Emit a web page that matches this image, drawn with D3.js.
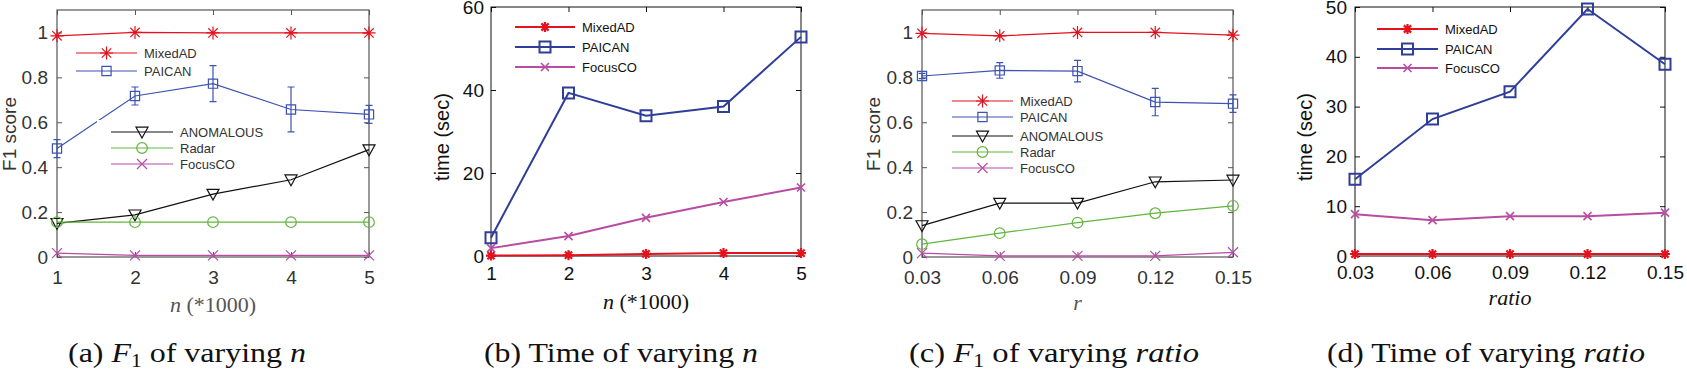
<!DOCTYPE html>
<html>
<head>
<meta charset="utf-8">
<script src="https://cdn.jsdelivr.net/npm/d3@7"></script>
<style>
body { margin: 0; background: #fff; }
svg { display: block; }
</style>
</head>
<body>
<svg id="chart" width="1687" height="371"></svg>
<script>
// x values
const nValues = [1, 2, 3, 4, 5];
const ratioValues = [0.03, 0.06, 0.09, 0.12, 0.15];

// tick labels
const f1Ticks = [0, 0.2, 0.4, 0.6, 0.8, 1];
const timeNTicks = [0, 20, 40, 60];
const timeRatioTicks = [0, 10, 20, 30, 40, 50];

// (a) F1 of varying n
const f1N_mixedAD = [0.985, 1.0, 0.998, 0.998, 0.998];
const f1N_paican = [0.483, 0.717, 0.772, 0.657, 0.635];
const f1N_paicanErr = [0.04, 0.04, 0.08, 0.10, 0.04];
const f1N_anomalous = [0.15, 0.188, 0.28, 0.344, 0.478];
const f1N_radar = [0.155, 0.155, 0.155, 0.155, 0.155];
const f1N_focusCO = [0.017, 0.007, 0.007, 0.007, 0.007];

// (b) time of varying n
const timeN_mixedAD = [0.1, 0.2, 0.5, 0.7, 0.7];
const timeN_paican = [4.4, 39.3, 33.8, 36.0, 52.8];
const timeN_focusCO = [1.9, 4.8, 9.2, 13.0, 16.5];

// (c) F1 of varying ratio
const f1R_mixedAD = [0.996, 0.985, 1.0, 1.0, 0.988];
const f1R_paican = [0.806, 0.831, 0.828, 0.69, 0.683];
const f1R_paicanErr = [0.012, 0.035, 0.048, 0.061, 0.039];
const f1R_anomalous = [0.14, 0.24, 0.24, 0.335, 0.343];
const f1R_radar = [0.057, 0.106, 0.153, 0.195, 0.228];
const f1R_focusCO = [0.017, 0.005, 0.005, 0.005, 0.021];

// (d) time of varying ratio
const timeR_mixedAD = [0.4, 0.4, 0.4, 0.4, 0.4];
const timeR_paican = [15.4, 27.5, 33.0, 49.6, 38.5];
const timeR_focusCO = [8.4, 7.2, 8.0, 8.0, 8.7];

const RED = "#e3121d", BLUE_THIN = "#3d53b2", BLUE_THICK = "#2f3e98",
      BLACK = "#111", GREEN = "#62b53e", MAGENTA = "#b84ca3";

const svg = d3.select("#chart");

function markerPath(type, r) {
	const k = r * 0.72;
	switch (type) {
		case "star": return `M${-r},0L${r},0M0,${-r}L0,${r}M${-k},${-k}L${k},${k}M${-k},${k}L${k},${-k}`;
		case "square": return `M${-r},${-r}H${r}V${r}H${-r}Z`;
		case "triangle": return `M${-r},${-r * 0.8}L${r},${-r * 0.8}L0,${r}Z`;
		case "x": return `M${-r},${-r}L${r},${r}M${-r},${r}L${r},${-r}`;
		case "circle": {
			const p = d3.path();
			p.arc(0, 0, r, 0, 2 * Math.PI);
			return p.toString();
		}
	}
}

function drawPanel(cfg) {
	const g = svg.append("g");
	const x = d3.scaleLinear().domain(d3.extent(cfg.xValues)).range([cfg.left, cfg.right]);
	const y = d3.scaleLinear().domain(cfg.yDomain).range([cfg.bottom, cfg.top]);

	// axes, ticks inward on all four sides (labels only bottom / left)
	const tick = 5;
	const axes = [
		[d3.axisBottom(x).tickValues(cfg.xValues).tickFormat(String).tickPadding(cfg.xPad), cfg.bottom, "y", true],
		[d3.axisTop(x).tickValues(cfg.xValues), cfg.top, "y", false],
		[d3.axisLeft(y).tickValues(cfg.yTicks).tickFormat(String).tickPadding(cfg.yPad), cfg.left, "x", true],
		[d3.axisRight(y).tickValues(cfg.yTicks), cfg.right, "x", false]
	];
	axes.forEach(([axis, pos, dir, labels]) => {
		const a = g.append("g")
			.attr("transform", dir === "y" ? `translate(0,${pos})` : `translate(${pos},0)`)
			.call(axis.tickSizeInner(-tick).tickSizeOuter(0));
		a.select(".domain").remove();
		a.selectAll("line").attr("stroke", cfg.frameColor);
		if (!labels) {
			a.selectAll("text").remove();
			return;
		}
		a.selectAll("text")
			.attr("fill", cfg.textColor)
			.style("font-family", "'Liberation Sans', Arial, sans-serif")
			.style("font-size", "19px");
	});

	g.append("rect")
		.attr("x", cfg.left).attr("y", cfg.top)
		.attr("width", cfg.right - cfg.left).attr("height", cfg.bottom - cfg.top)
		.attr("fill", "none").attr("stroke", cfg.frameColor).attr("stroke-width", cfg.frameWidth);

	// series
	const line = d3.line().x((d, i) => x(cfg.xValues[i])).y((d) => y(d));
	cfg.series.forEach((s) => {
		const sg = g.append("g")
			.attr("stroke", s.color).attr("fill", "none")
			.attr("stroke-width", cfg.lineWidth);
		sg.append("path").attr("d", line(s.values));
		if (s.err) {
			s.values.forEach((v, i) => {
				const cx = x(cfg.xValues[i]);
				const lo = y(v - s.err[i]), hi = y(v + s.err[i]);
				sg.append("path")
					.attr("d", `M${cx},${lo}V${hi}M${cx - 3.5},${lo}H${cx + 3.5}M${cx - 3.5},${hi}H${cx + 3.5}`);
			});
		}
		sg.selectAll(".mk").data(s.values).enter()
			.append("path")
				.attr("transform", (d, i) => `translate(${x(cfg.xValues[i])},${y(d)})`)
				.attr("d", markerPath(s.marker, s.size))
				.attr("stroke-width", s.markerWidth || cfg.lineWidth);
	});

	// legends
	cfg.legends.forEach((lg) => {
		const lgG = g.append("g");
		if (lg.bg) {
			lgG.append("rect")
				.attr("x", lg.bg[0]).attr("y", lg.bg[1])
				.attr("width", lg.bg[2]).attr("height", lg.bg[3])
				.attr("fill", "#fff");
		}
		lg.items.forEach((idx, j) => {
			const s = cfg.series[idx];
			const ly = lg.rows[j];
			const row = lgG.append("g").attr("stroke", s.color).attr("fill", "none").attr("stroke-width", cfg.lineWidth);
			row.append("path").attr("d", `M${lg.x0},${ly}H${lg.x1}`);
			row.append("path")
				.attr("transform", `translate(${(lg.x0 + lg.x1) / 2},${ly})`)
				.attr("d", markerPath(s.marker, s.size))
				.attr("stroke-width", s.markerWidth || cfg.lineWidth);
			lgG.append("text")
				.attr("x", lg.x1 + 7).attr("y", ly).attr("dy", "0.36em")
				.attr("fill", cfg.textColor)
				.style("font-family", "'Liberation Sans', Arial, sans-serif")
				.style("font-size", "13px")
				.text(s.name);
		});
	});

	// y label
	g.append("text")
		.attr("transform", `translate(${cfg.yLabelX},${cfg.yLabelY}) rotate(-90)`)
		.attr("text-anchor", "middle").attr("dy", "0.36em")
		.attr("fill", cfg.textColor)
		.style("font-family", "'Liberation Sans', Arial, sans-serif")
		.style("font-size", cfg.yLabelSize + "px")
		.text(cfg.yLabel);

	// x label
	const xl = g.append("text")
		.attr("x", (cfg.left + cfg.right) / 2).attr("y", cfg.xLabelY)
		.attr("text-anchor", "middle")
		.attr("fill", cfg.xLabelColor)
		.style("font-family", "'Liberation Serif', 'Times New Roman', serif")
		.style("font-size", "22px");
	xl.append("tspan").style("font-style", "italic").text(cfg.xLabelVar);
	if (cfg.xLabelRest) xl.append("tspan").text(cfg.xLabelRest);

	// caption
	const cap = svg.append("text")
		.attr("x", cfg.captionX).attr("y", 362)
		.attr("text-anchor", "middle")
		.attr("fill", "#111")
		.attr("textLength", cfg.captionWidth).attr("lengthAdjust", "spacingAndGlyphs")
		.style("font-family", "'Liberation Serif', 'Times New Roman', serif")
		.style("font-size", "27px");
	cap.append("tspan").text(cfg.captionParts[0]);
	if (cfg.captionParts[1] === "F1") {
		cap.append("tspan").style("font-style", "italic").text("F");
		cap.append("tspan").attr("dy", 5).style("font-size", "18px").text("1");
		cap.append("tspan").attr("dy", -5).text(cfg.captionParts[2]);
	} else {
		cap.append("tspan").text(cfg.captionParts[1] + cfg.captionParts[2]);
	}
	cap.append("tspan").style("font-style", "italic").text(cfg.captionParts[3]);
}

const legendNames = ["MixedAD", "PAICAN", "ANOMALOUS", "Radar", "FocusCO"];

function f1Series(mixed, paican, err, anom, radar, focus) {
	return [
		{ name: legendNames[0], values: mixed, color: RED, marker: "star", size: 6.5 },
		{ name: legendNames[1], values: paican, err: err, color: BLUE_THIN, marker: "square", size: 4.6 },
		{ name: legendNames[2], values: anom, color: BLACK, marker: "triangle", size: 6 },
		{ name: legendNames[3], values: radar, color: GREEN, marker: "circle", size: 5.3 },
		{ name: legendNames[4], values: focus, color: MAGENTA, marker: "x", size: 5 }
	];
}

function timeSeries(mixed, paican, focus) {
	return [
		{ name: legendNames[0], values: mixed, color: RED, marker: "star", size: 5, markerWidth: 2.2 },
		{ name: legendNames[1], values: paican, color: BLUE_THICK, marker: "square", size: 5.5 },
		{ name: legendNames[4], values: focus, color: MAGENTA, marker: "x", size: 4, markerWidth: 1.6 }
	];
}

const f1Style = { frameColor: "#555", frameWidth: 1.2, textColor: "#333", xLabelColor: "#555", lineWidth: 1.2, yDomain: [0, 1.1], yTicks: f1Ticks };
const timeStyle = { frameColor: "#111", frameWidth: 1, textColor: "#111", xLabelColor: "#111", lineWidth: 2 };

drawPanel(Object.assign({}, f1Style, {
	left: 57, right: 369, top: 10, bottom: 257, xPad: 14, yPad: 9,
	xValues: nValues,
	series: f1Series(f1N_mixedAD, f1N_paican, f1N_paicanErr, f1N_anomalous, f1N_radar, f1N_focusCO),
	legends: [
		{ x0: 76, x1: 137, rows: [53, 71], items: [0, 1] },
		{ x0: 111, x1: 173, rows: [132, 148, 164], items: [2, 3, 4], bg: [97, 120, 168, 56] }
	],
	yLabel: "F1 score", yLabelX: 9, yLabelY: 134, yLabelSize: 19,
	xLabelVar: "n", xLabelRest: " (*1000)", xLabelY: 312,
	captionX: 187, captionWidth: 238, captionParts: ["(a) ", "F1", " of varying ", "n"]
}));

drawPanel(Object.assign({}, timeStyle, {
	left: 491, right: 801, top: 7, bottom: 256, xPad: 11, yPad: 7,
	xValues: nValues, yDomain: [0, 60], yTicks: timeNTicks,
	series: timeSeries(timeN_mixedAD, timeN_paican, timeN_focusCO),
	legends: [{ x0: 515, x1: 575, rows: [27, 47, 67], items: [0, 1, 2] }],
	yLabel: "time (sec)", yLabelX: 442, yLabelY: 137, yLabelSize: 20,
	xLabelVar: "n", xLabelRest: " (*1000)", xLabelY: 309,
	captionX: 621, captionWidth: 274, captionParts: ["(b) ", "Time", " of varying ", "n"]
}));

drawPanel(Object.assign({}, f1Style, {
	left: 922, right: 1233, top: 10, bottom: 257, xPad: 14, yPad: 9,
	xValues: ratioValues,
	series: f1Series(f1R_mixedAD, f1R_paican, f1R_paicanErr, f1R_anomalous, f1R_radar, f1R_focusCO),
	legends: [{ x0: 952, x1: 1013, rows: [101, 117, 136, 152, 168], items: [0, 1, 2, 3, 4] }],
	yLabel: "F1 score", yLabelX: 873, yLabelY: 134, yLabelSize: 19,
	xLabelVar: "r", xLabelY: 310,
	captionX: 1054, captionWidth: 290, captionParts: ["(c) ", "F1", " of varying ", "ratio"]
}));

drawPanel(Object.assign({}, timeStyle, {
	left: 1355, right: 1665, top: 7, bottom: 256, xPad: 10, yPad: 8,
	xValues: ratioValues, yDomain: [0, 50], yTicks: timeRatioTicks,
	series: timeSeries(timeR_mixedAD, timeR_paican, timeR_focusCO),
	legends: [{ x0: 1377, x1: 1438, rows: [29, 49, 68], items: [0, 1, 2] }],
	yLabel: "time (sec)", yLabelX: 1305, yLabelY: 137, yLabelSize: 20,
	xLabelVar: "ratio", xLabelY: 305,
	captionX: 1486, captionWidth: 318, captionParts: ["(d) ", "Time", " of varying ", "ratio"]
}));
</script>
</body>
</html>
